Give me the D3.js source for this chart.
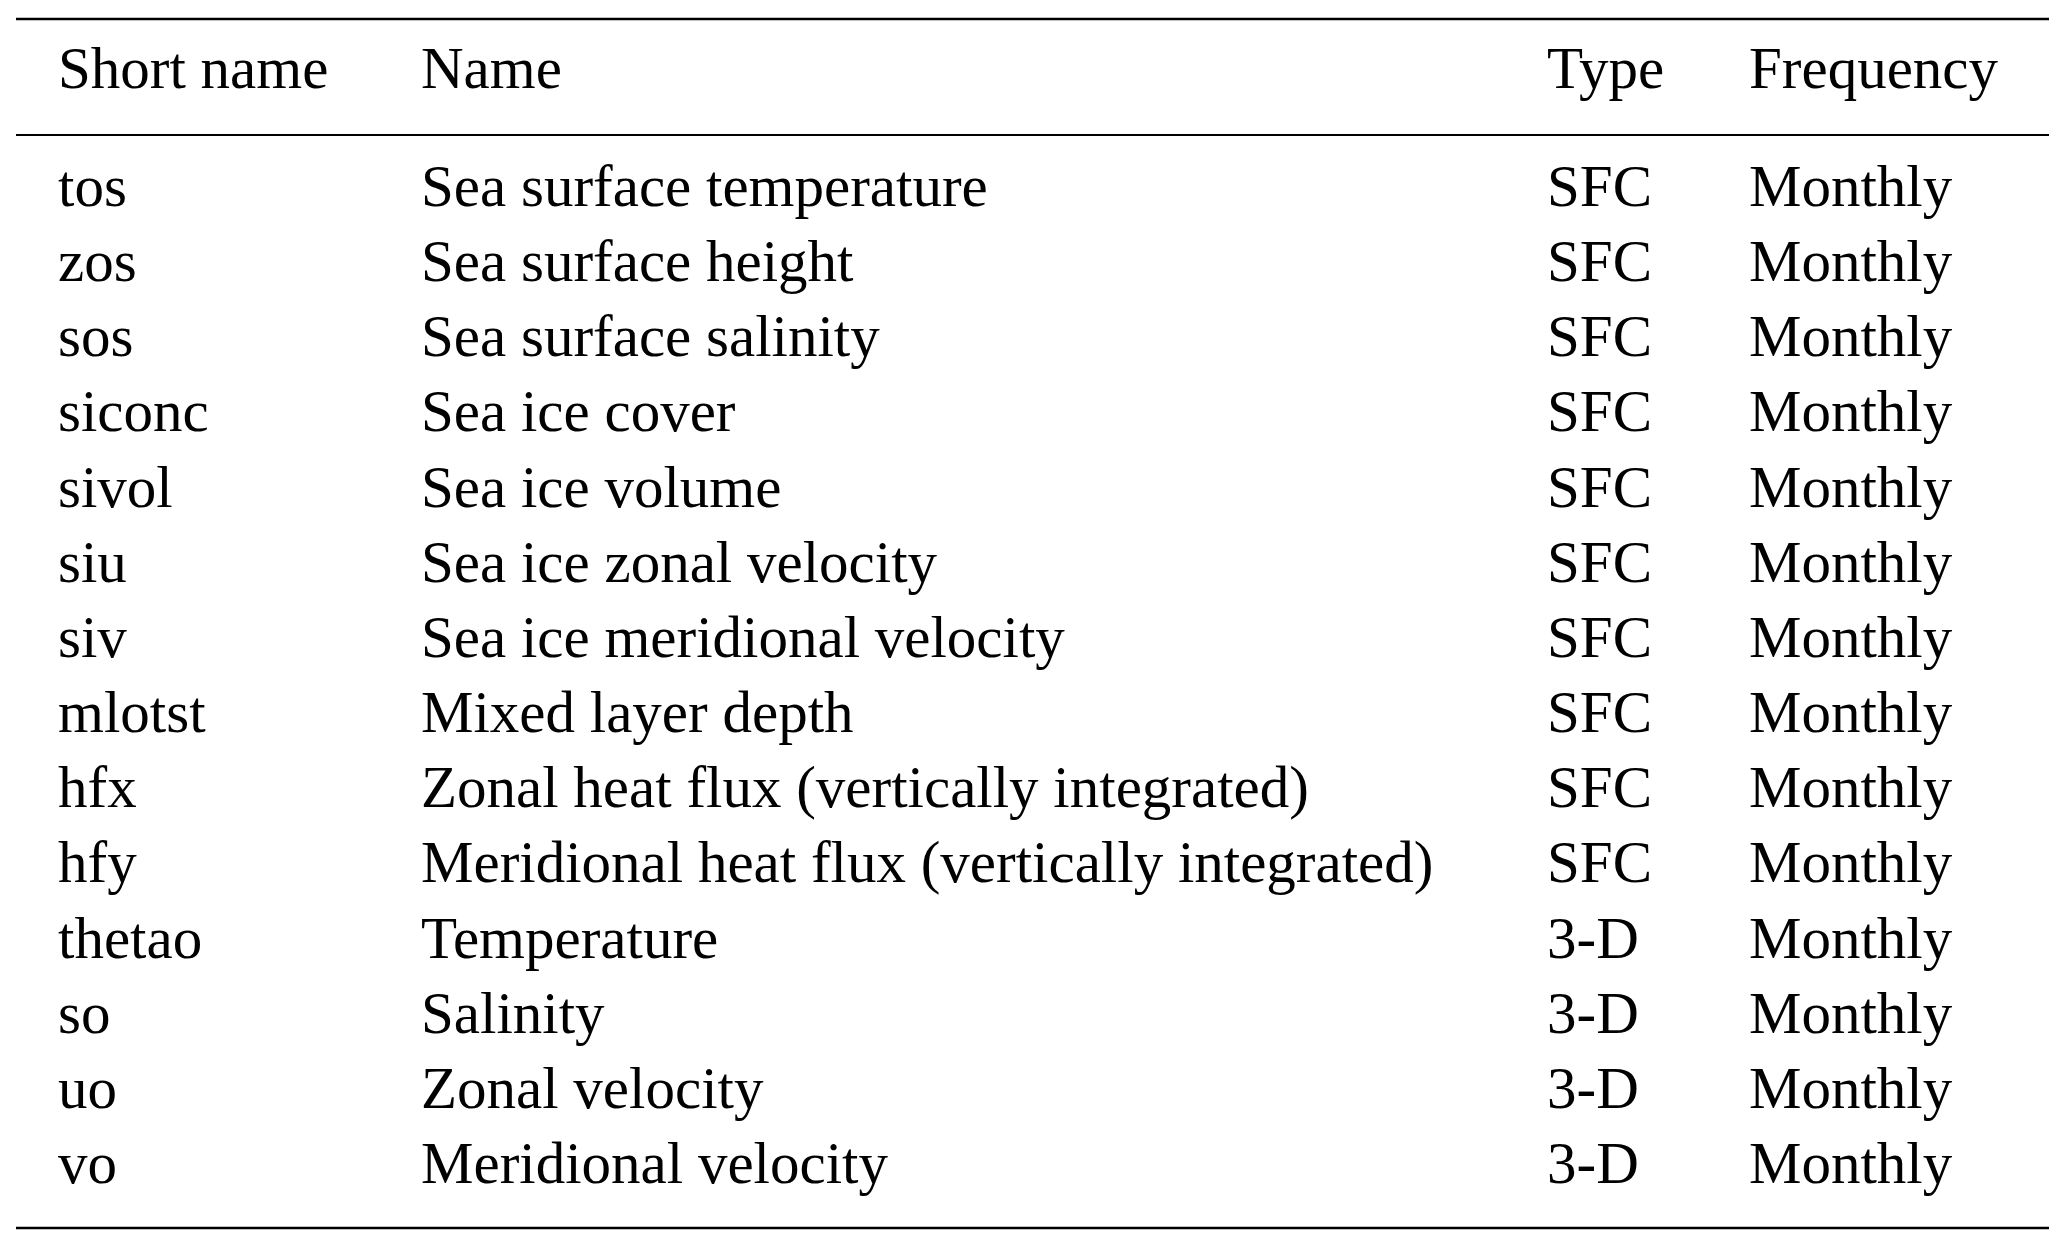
<!DOCTYPE html>
<html><head><meta charset="utf-8">
<script src="https://cdn.jsdelivr.net/npm/d3@7"></script>
<style>body{margin:0;background:#fff}</style>
</head><body>
<svg id="t" width="2067" height="1244"></svg>
<script>
var headers = ["Short name", "Name", "Type", "Frequency"];
var shortNames = ["tos","zos","sos","siconc","sivol","siu","siv","mlotst","hfx","hfy","thetao","so","uo","vo"];
var names = ["Sea surface temperature","Sea surface height","Sea surface salinity","Sea ice cover","Sea ice volume",
  "Sea ice zonal velocity","Sea ice meridional velocity","Mixed layer depth","Zonal heat flux (vertically integrated)",
  "Meridional heat flux (vertically integrated)","Temperature","Salinity","Zonal velocity","Meridional velocity"];
var types = ["SFC","SFC","SFC","SFC","SFC","SFC","SFC","SFC","SFC","SFC","3-D","3-D","3-D","3-D"];
var freqs = shortNames.map(function(){ return "Monthly"; });

var svg = d3.select("#t");
var font = "'Liberation Serif', 'DejaVu Serif', serif";
var fs = 59;
var colX = [58, 421, 1547, 1749];

var y = d3.scaleLinear().domain([0, shortNames.length - 1]).range([206, 1183]);

function rule(yy, w) {
  svg.append("line").attr("x1", 16).attr("x2", 2049).attr("y1", yy).attr("y2", yy)
    .attr("stroke", "#000").attr("stroke-width", w);
}
rule(19, 2.5); rule(135, 2); rule(1228, 2.5);

svg.selectAll(".h").data(headers).enter().append("text")
  .attr("x", function(d, i){ return colX[i]; }).attr("y", 88)
  .attr("font-family", font).attr("font-size", fs).text(function(d){ return d; });

var rows = shortNames.map(function(s, i){ return [s, names[i], types[i], freqs[i]]; });
var g = svg.selectAll(".r").data(rows).enter().append("g");
g.selectAll("text").data(function(d, i){ return d.map(function(v){ return {v: v, i: i}; }); })
  .enter().append("text")
  .attr("x", function(d, j){ return colX[j]; })
  .attr("y", function(d){ return y(d.i); })
  .attr("font-family", font).attr("font-size", fs).attr("fill", "#000")
  .text(function(d){ return d.v; });
</script>
</body></html>
